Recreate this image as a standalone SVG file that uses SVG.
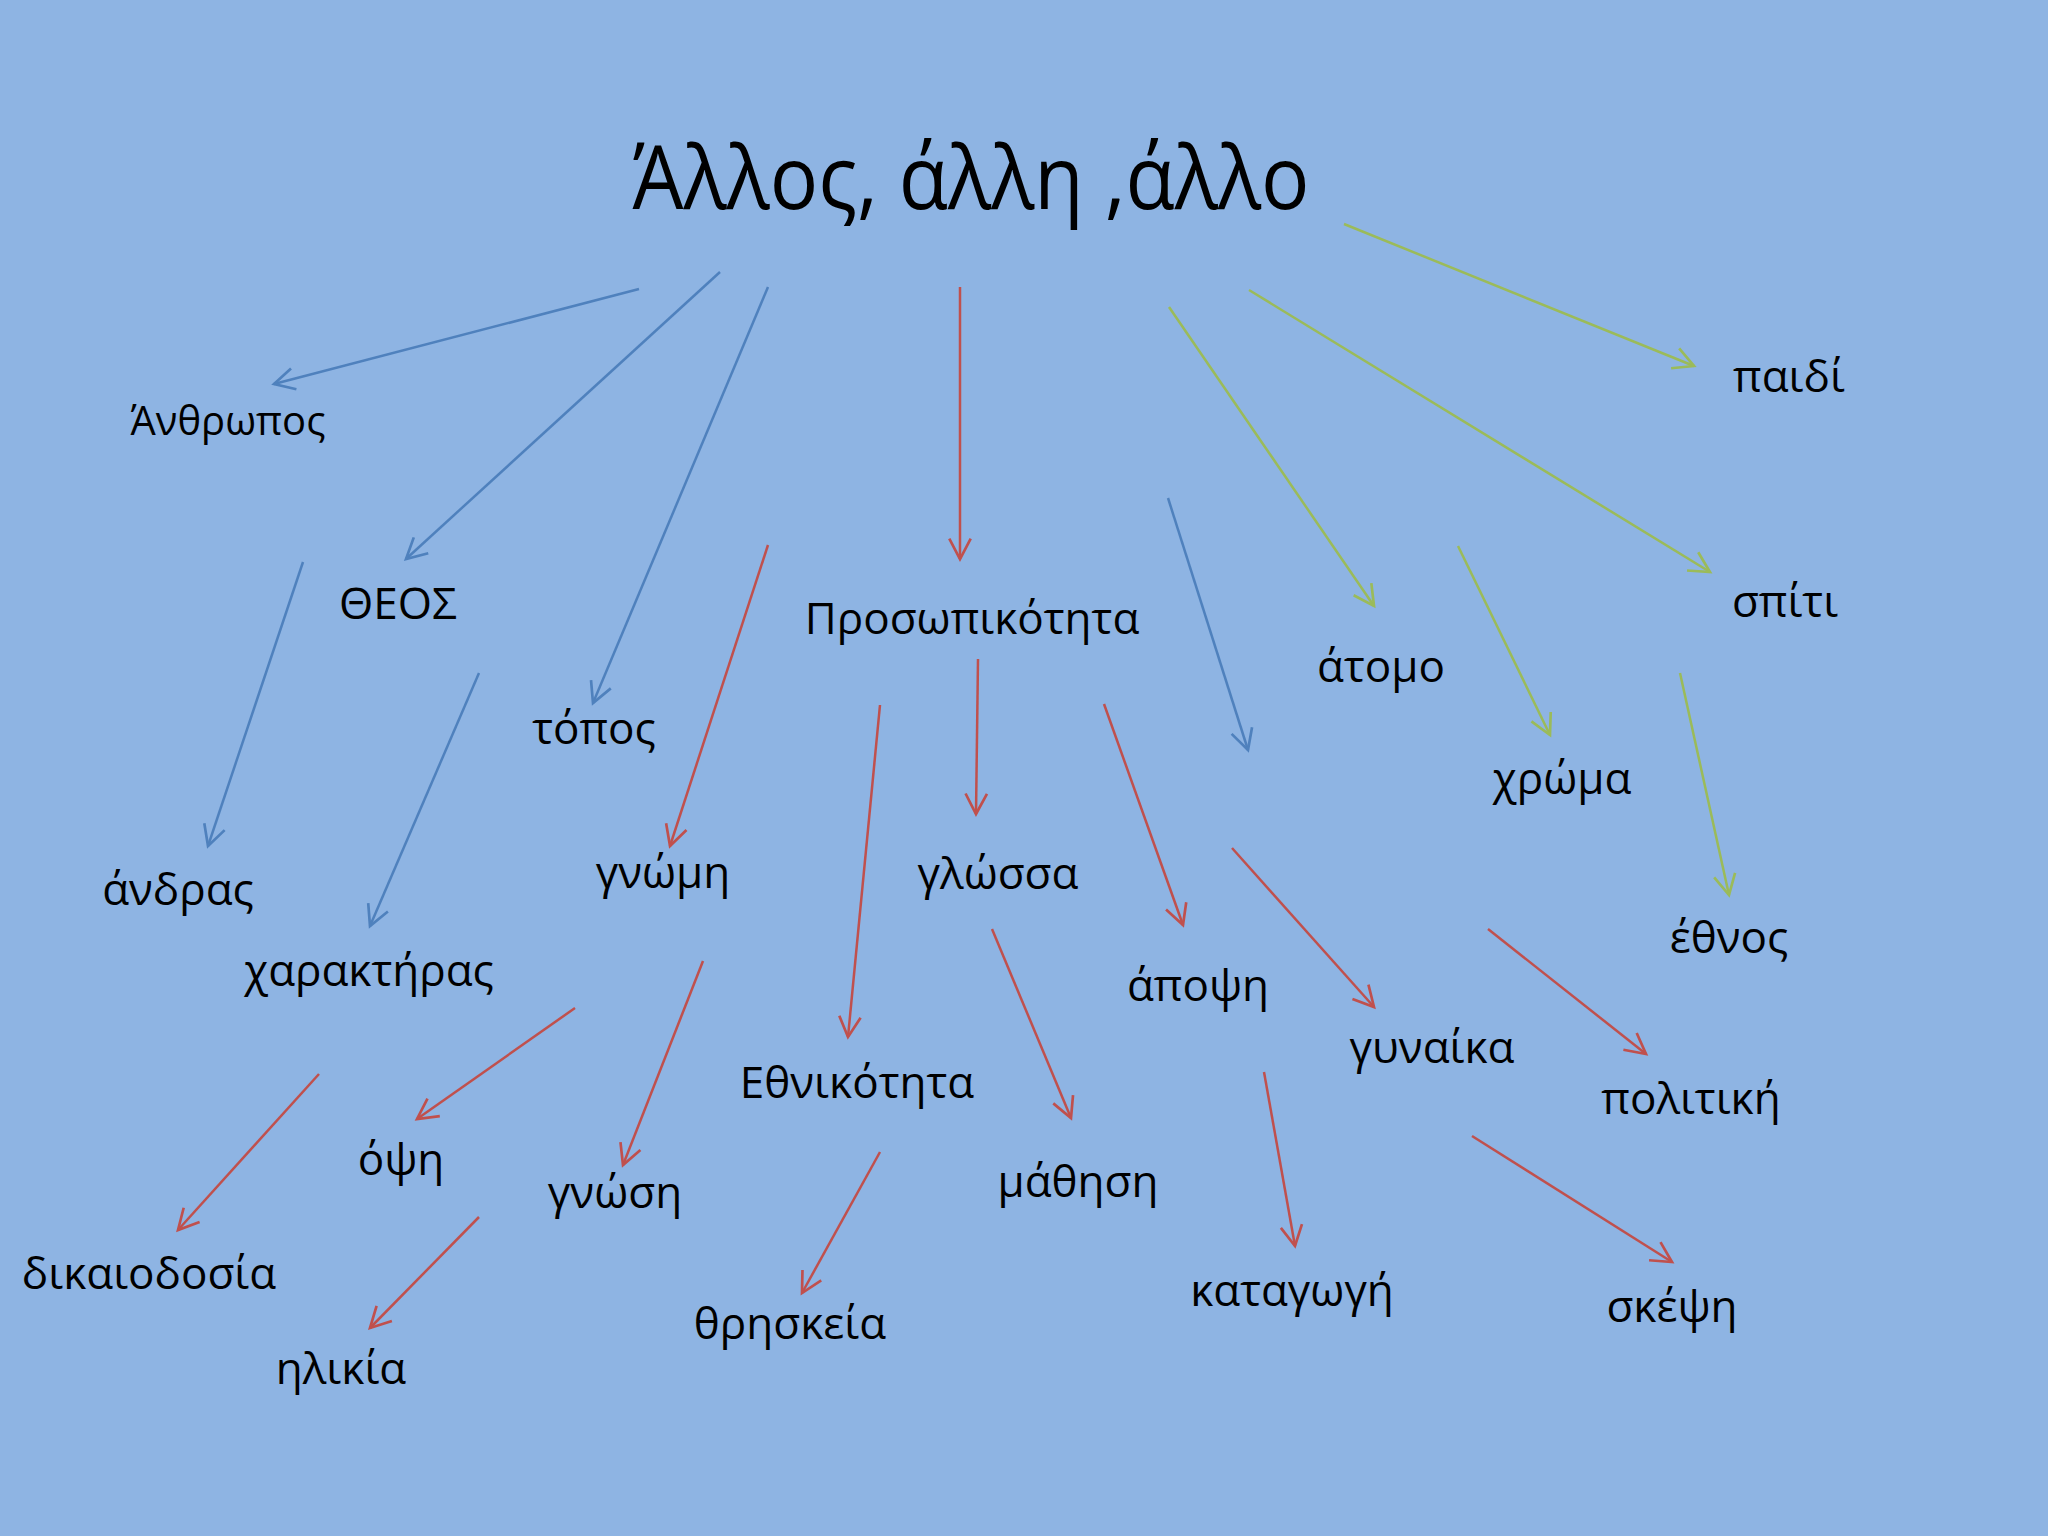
<svg xmlns="http://www.w3.org/2000/svg" width="2048" height="1536" viewBox="0 0 2048 1536">
<defs>
<style>
text{font-family:"Open Sans","Noto Sans","DejaVu Sans",sans-serif;fill:#000;text-anchor:middle}
.lbl{font-size:44px}
.sm{font-size:40px}
.title{font-size:88px}
.b{stroke:#4F81BD;stroke-width:2.5;fill:none}
.r{stroke:#C0504D;stroke-width:2.5;fill:none}
.g{stroke:#9BBB59;stroke-width:2.5;fill:none}
</style>
<marker id="ab" markerUnits="userSpaceOnUse" markerWidth="30" markerHeight="30" viewBox="-22 -14 26 28" refX="0" refY="0" orient="auto"><path d="M-19,-10 L0,0 L-19,10" fill="none" stroke="#4F81BD" stroke-width="2.5"/></marker>
<marker id="ar" markerUnits="userSpaceOnUse" markerWidth="30" markerHeight="30" viewBox="-22 -14 26 28" refX="0" refY="0" orient="auto"><path d="M-19,-10 L0,0 L-19,10" fill="none" stroke="#C0504D" stroke-width="2.5"/></marker>
<marker id="ag" markerUnits="userSpaceOnUse" markerWidth="30" markerHeight="30" viewBox="-22 -14 26 28" refX="0" refY="0" orient="auto"><path d="M-19,-10 L0,0 L-19,10" fill="none" stroke="#9BBB59" stroke-width="2.5"/></marker>
</defs>
<rect width="2048" height="1536" fill="#8EB4E3"/>
<g id="connectors">
<line class="b" x1="639" y1="289" x2="274" y2="384" marker-end="url(#ab)"/>
<line class="b" x1="720" y1="272" x2="406" y2="559" marker-end="url(#ab)"/>
<line class="b" x1="768" y1="287" x2="593" y2="703" marker-end="url(#ab)"/>
<line class="b" x1="303" y1="562" x2="208" y2="846" marker-end="url(#ab)"/>
<line class="b" x1="479" y1="673" x2="370" y2="926" marker-end="url(#ab)"/>
<line class="b" x1="1168" y1="498" x2="1248" y2="750" marker-end="url(#ab)"/>
<line class="r" x1="960" y1="287" x2="960" y2="559" marker-end="url(#ar)"/>
<line class="r" x1="768" y1="545" x2="670" y2="846" marker-end="url(#ar)"/>
<line class="r" x1="978" y1="659" x2="976" y2="814" marker-end="url(#ar)"/>
<line class="r" x1="880" y1="705" x2="848" y2="1037" marker-end="url(#ar)"/>
<line class="r" x1="1104" y1="704" x2="1183" y2="925" marker-end="url(#ar)"/>
<line class="r" x1="1232" y1="848" x2="1374" y2="1007" marker-end="url(#ar)"/>
<line class="r" x1="1488" y1="929" x2="1646" y2="1054" marker-end="url(#ar)"/>
<line class="r" x1="992" y1="929" x2="1071" y2="1118" marker-end="url(#ar)"/>
<line class="r" x1="575" y1="1008" x2="417" y2="1119" marker-end="url(#ar)"/>
<line class="r" x1="703" y1="961" x2="623" y2="1165" marker-end="url(#ar)"/>
<line class="r" x1="319" y1="1074" x2="178" y2="1230" marker-end="url(#ar)"/>
<line class="r" x1="479" y1="1217" x2="370" y2="1328" marker-end="url(#ar)"/>
<line class="r" x1="880" y1="1152" x2="802" y2="1293" marker-end="url(#ar)"/>
<line class="r" x1="1264" y1="1072" x2="1295" y2="1246" marker-end="url(#ar)"/>
<line class="r" x1="1472" y1="1136" x2="1672" y2="1262" marker-end="url(#ar)"/>
<line class="g" x1="1344" y1="224" x2="1694" y2="366" marker-end="url(#ag)"/>
<line class="g" x1="1249" y1="290" x2="1710" y2="572" marker-end="url(#ag)"/>
<line class="g" x1="1169" y1="307" x2="1374" y2="606" marker-end="url(#ag)"/>
<line class="g" x1="1458" y1="546" x2="1550" y2="735" marker-end="url(#ag)"/>
<line class="g" x1="1680" y1="673" x2="1729" y2="895" marker-end="url(#ag)"/>
</g>
<g id="title"><text class="title" x="971" y="209" textLength="677" lengthAdjust="spacingAndGlyphs">Άλλος, άλλη ,άλλο</text></g>
<g id="n-paidi"><text class="lbl" x="1789" y="392">παιδί</text></g>
<g id="n-anthropos"><text class="sm" x="228" y="435">Άνθρωπος</text></g>
<g id="n-theos"><text class="lbl" x="398" y="619">ΘΕΟΣ</text></g>
<g id="n-topos"><text class="lbl" x="594" y="744">τόπος</text></g>
<g id="n-prosopikotita"><text class="lbl" x="972" y="634">Προσωπικότητα</text></g>
<g id="n-atomo"><text class="lbl" x="1381" y="682">άτομο</text></g>
<g id="n-spiti"><text class="lbl" x="1785" y="617">σπίτι</text></g>
<g id="n-chroma"><text class="lbl" x="1562" y="794">χρώμα</text></g>
<g id="n-ethnos"><text class="lbl" x="1729" y="953">έθνος</text></g>
<g id="n-andras"><text class="lbl" x="178" y="905">άνδρας</text></g>
<g id="n-gnomi"><text class="lbl" x="663" y="888">γνώμη</text></g>
<g id="n-glossa"><text class="lbl" x="998" y="889">γλώσσα</text></g>
<g id="n-charaktiras"><text class="lbl" x="369" y="986">χαρακτήρας</text></g>
<g id="n-apopsi"><text class="lbl" x="1198" y="1001">άποψη</text></g>
<g id="n-gynaika"><text class="lbl" x="1432" y="1063">γυναίκα</text></g>
<g id="n-politiki"><text class="lbl" x="1691" y="1114">πολιτική</text></g>
<g id="n-ethnikotita"><text class="lbl" x="857" y="1098">Εθνικότητα</text></g>
<g id="n-opsi"><text class="lbl" x="401" y="1175">όψη</text></g>
<g id="n-gnosi"><text class="lbl" x="615" y="1208">γνώση</text></g>
<g id="n-mathisi"><text class="lbl" x="1078" y="1197">μάθηση</text></g>
<g id="n-dikaiodosia"><text class="lbl" x="149" y="1289">δικαιοδοσία</text></g>
<g id="n-katagogi"><text class="lbl" x="1292" y="1306">καταγωγή</text></g>
<g id="n-skepsi"><text class="lbl" x="1672" y="1322">σκέψη</text></g>
<g id="n-thriskeia"><text class="lbl" x="790" y="1339">θρησκεία</text></g>
<g id="n-ilikia"><text class="lbl" x="341" y="1384">ηλικία</text></g>
</svg>
